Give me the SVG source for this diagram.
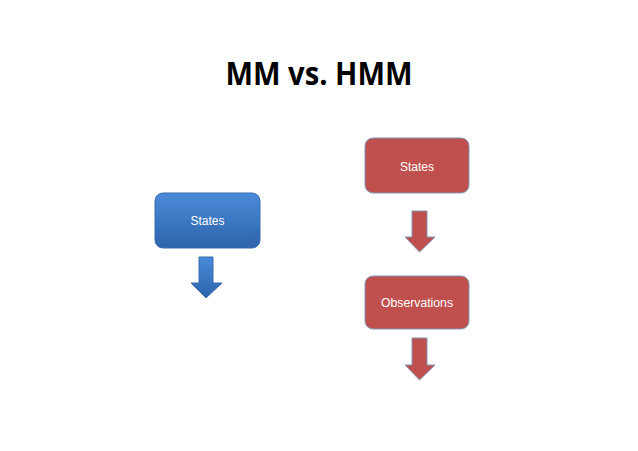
<svg xmlns="http://www.w3.org/2000/svg" width="638" height="451" viewBox="0 0 638 451">
<style>
.lbl{font-family:"Liberation Sans","Open Sans",Arial,sans-serif;font-size:12.5px;fill:#ffffff;text-anchor:middle}
.title{font-family:"Open Sans","Liberation Sans",Arial,sans-serif;font-size:33px;font-weight:bold;fill:#000000;text-anchor:middle}
.red{fill:#c0504d;stroke:#8096b8;stroke-width:1}
.blue{fill:url(#bg);stroke:#3a6cb0;stroke-width:1}
</style>
<defs>
<linearGradient id="bg" x1="0" y1="0" x2="0" y2="1">
<stop offset="0" stop-color="#4a8bd9"/>
<stop offset="1" stop-color="#2d63ab"/>
</linearGradient>
</defs>
<rect width="638" height="451" fill="#ffffff"/>
<text class="title" x="319" y="85" textLength="187" lengthAdjust="spacingAndGlyphs">MM vs. HMM</text>
<g id="mm-states">
<rect class="blue" x="155" y="193" width="105" height="55" rx="8"/>
<text class="lbl" x="207.5" y="225" textLength="34" lengthAdjust="spacingAndGlyphs">States</text>
</g>
<g id="hmm-states">
<rect class="red" x="365" y="138" width="104" height="55" rx="8"/>
<text class="lbl" x="417" y="171" textLength="34" lengthAdjust="spacingAndGlyphs">States</text>
</g>
<g id="hmm-observations">
<rect class="red" x="365" y="276" width="104" height="53" rx="8"/>
<text class="lbl" x="417" y="307" textLength="72" lengthAdjust="spacingAndGlyphs">Observations</text>
</g>
<g id="connectors">
<polygon class="blue" points="199,257 213,257 213,283 222,283 206,298 191,283 199,283"/>
<polygon class="red" points="412,211 427,211 427,237 435,237 419.5,252 405,237 412,237"/>
<polygon class="red" points="412,338 427,338 427,365 435,365 419.5,380 405,365 412,365"/>
</g>
</svg>
